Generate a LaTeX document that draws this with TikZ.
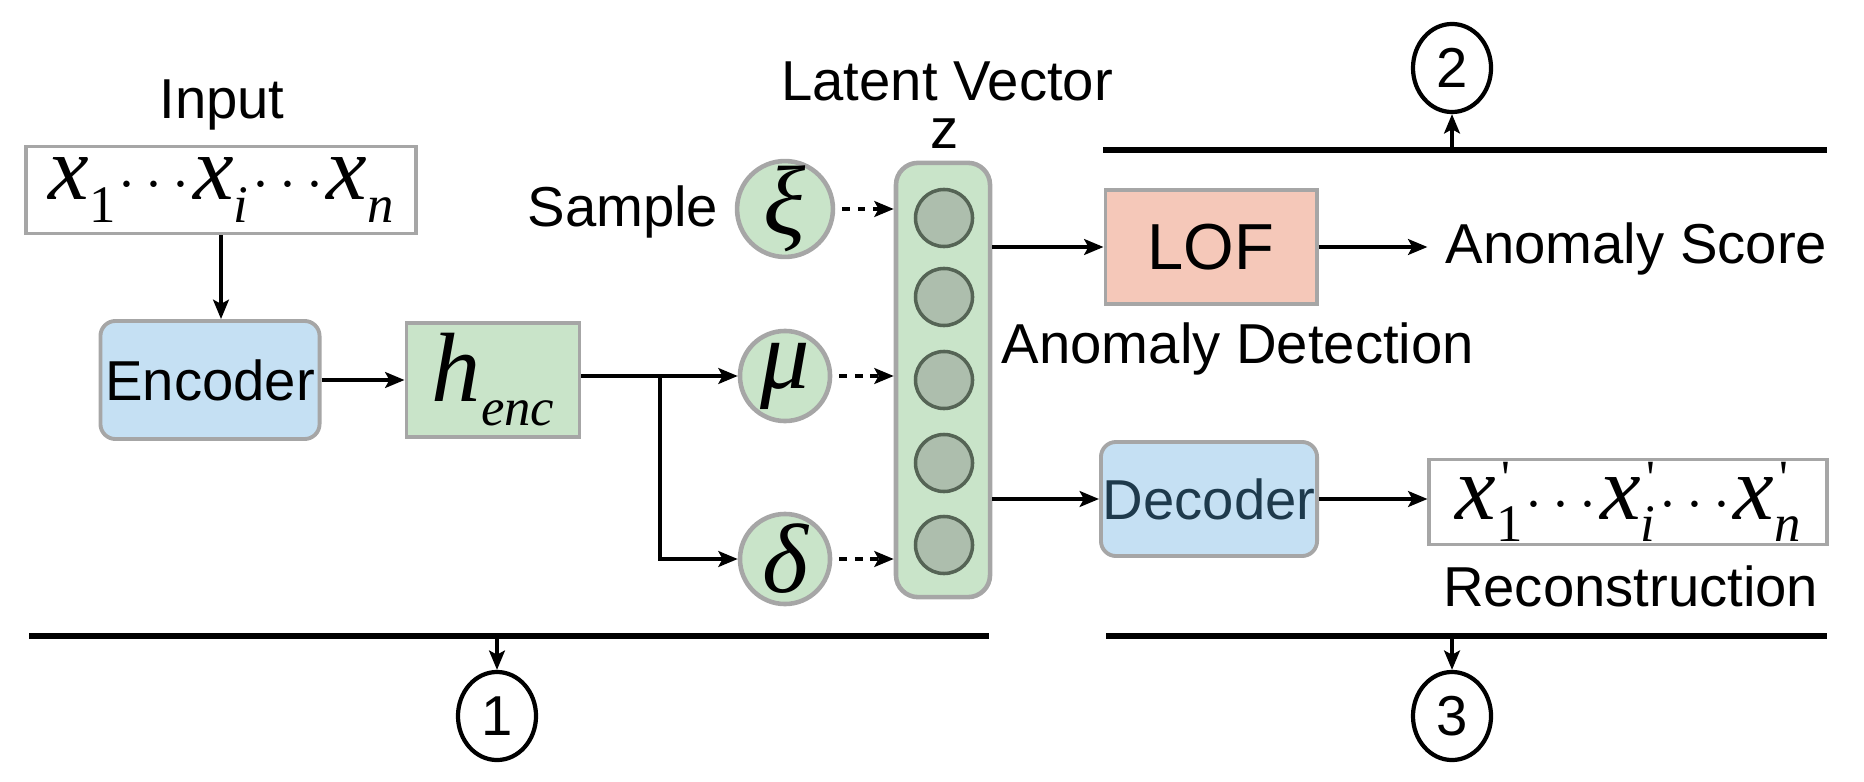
\documentclass[tikz,border=0pt]{standalone}
\usepackage{fontspec}
\setmainfont{Liberation Sans}
\newfontfamily\tms{Liberation Serif}
\usetikzlibrary{arrows.meta,shapes.geometric}
\definecolor{bord}{HTML}{A6A6A6}
\definecolor{encblue}{HTML}{C5E0F3}
\definecolor{lgreen}{HTML}{C9E4C9}
\definecolor{salmon}{HTML}{F5C8B9}
\definecolor{dotfill}{HTML}{ADBEAD}
\definecolor{dotdraw}{HTML}{556455}
\definecolor{navy}{HTML}{1E3A4C}
\newcommand\bigx{{\fontsize{26}{26}\selectfont\tms\itshape x}}
\newcommand\sbs[1]{\raisebox{-6.3pt}{\fontsize{15}{15}\selectfont\tms #1}}
\newcommand\sbp[1]{\rlap{\raisebox{7pt}{\kern1.5pt\fontsize{14}{14}\selectfont\tms\textquotesingle}}\sbs{#1}}
\newcommand\dts{{\fontsize{18}{18}\selectfont\kern1pt$\cdots$\kern1pt}}
\newcommand\grk[1]{{\fontsize{28}{28}\selectfont\tms\itshape #1}}
\begin{document}
\begin{tikzpicture}[x=0.01cm,y=-0.01cm,
  lbl/.style={inner sep=0pt,font=\fontsize{16}{16}\selectfont},
  vecbox/.style={draw=bord,line width=1.1pt,fill=white,inner sep=0pt},
  bluebox/.style={draw=bord,line width=1.1pt,fill=encblue,rounded corners=0.15cm,inner sep=0pt,font=\fontsize{16}{16}\selectfont},
  greenbox/.style={draw=bord,line width=1.1pt,fill=lgreen,inner sep=0pt},
  gcirc/.style={circle,draw=bord,line width=1.3pt,fill=lgreen,minimum size=0.90cm,inner sep=0pt},
  zcol/.style={draw=bord,line width=1.3pt,fill=lgreen,rounded corners=0.22cm,inner sep=0pt,minimum width=0.94cm,minimum height=4.34cm},
  zdot/.style={circle,draw=dotdraw,line width=1pt,fill=dotfill,minimum size=0.57cm,inner sep=0pt},
  arr/.style={line width=1pt,-{Stealth[length=5.5pt,width=4.5pt,inset=1.2pt]}},
  darr/.style={line width=1pt,dash pattern=on 2.2pt off 2.2pt,-{Stealth[length=5.5pt,width=4.5pt,inset=1.2pt]}},
  sepline/.style={line width=1.5pt},
  num/.style={ellipse,draw=black,line width=1.2pt,minimum width=0.78cm,minimum height=0.88cm,inner sep=0pt,font=\fontsize{16}{16}\selectfont}
]
\useasboundingbox (0,0) rectangle (1864,782);

% input
\node[lbl,anchor=base] (inlbl) at (222,119) {Input};
\node[vecbox,minimum width=3.90cm,minimum height=0.87cm] (in) at (221,190) {\bigx\sbs{1}\dts\bigx\sbs{\itshape i}\dts\bigx\sbs{\itshape n}};
\node[bluebox,minimum width=2.19cm,minimum height=1.18cm] (enc) at (210,380) {Encoder};
\node[greenbox,minimum width=1.73cm,minimum height=1.14cm] (h) at (493,380) {{\fontsize{28}{28}\selectfont\tms\itshape h}\raisebox{-6.8pt}{\fontsize{15}{15}\selectfont\tms\itshape enc}};

% greek circles
\node[lbl,anchor=base east] (smp) at (719,226) {Sample};
\node[gcirc] (xi) at (785,209) {\grk{ξ}};
\node[gcirc] (mu) at (785,376) {\grk{μ}};
\node[gcirc] (de) at (785,559) {\grk{δ}};

% latent column
\node[lbl,anchor=base] (lv) at (947,101) {Latent Vector};
\node[lbl,anchor=base] (zl) at (945,149) {z};
\node[zcol] (z) at (943,380) {};
\node[zdot] (z1) at (944,218) {};
\node[zdot] (z2) at (944,297) {};
\node[zdot] (z3) at (944,380) {};
\node[zdot] (z4) at (944,463) {};
\node[zdot] (z5) at (944,545) {};

% right part
\node[draw=bord,line width=1.1pt,fill=salmon,inner sep=0pt,minimum width=2.11cm,minimum height=1.14cm,font=\fontsize{18.5}{18.5}\selectfont] (lof) at (1211,247) {LOF};
\node[lbl,anchor=base west] (as) at (1445,263) {Anomaly Score};
\node[lbl,anchor=base] (ad) at (1238,363) {Anomaly Detection};
\node[bluebox,minimum width=2.16cm,minimum height=1.14cm,text=navy] (dec) at (1209,499) {Decoder};
\node[vecbox,minimum width=3.97cm,minimum height=0.85cm] (out) at (1628,502) {\bigx\sbp{1}\dts\bigx\sbp{\itshape i}\dts\bigx\sbp{\itshape n}};
\node[lbl,anchor=base east] (rec) at (1819,606) {Reconstruction};

% separators and numbers
\coordinate (l1a) at (29,636); \coordinate (l1b) at (989,636); \coordinate (l1m) at (497,636);
\coordinate (l2a) at (1103,150); \coordinate (l2b) at (1827,150); \coordinate (l2m) at (1452,150);
\coordinate (l3a) at (1106,636); \coordinate (l3b) at (1827,636); \coordinate (l3m) at (1452,636);
\draw[sepline] (l1a) -- (l1b);
\draw[sepline] (l2a) -- (l2b);
\draw[sepline] (l3a) -- (l3b);
\node[num] (n1) at (497,716) {1};
\node[num] (n2) at (1452,68) {2};
\node[num] (n3) at (1452,716) {3};
\draw[arr] (l1m) -- (n1.north);
\draw[arr] (l2m) -- (n2.south);
\draw[arr] (l3m) -- (n3.north);

% connectors
\draw[arr] (in.south) -- (in.south |- enc.north);
\draw[arr] (enc.east) -- (h.west);
\coordinate (br) at (660,376);
\draw[arr] (h.east |- mu) -- (mu.west);
\draw[arr] (br) |- (de.west);
\draw[darr,shorten <=2pt] (xi.east) -- (xi.east -| z.west);
\draw[darr,shorten <=2pt] (mu.east) -- (mu.east -| z.west);
\draw[darr,shorten <=2pt] (de.east) -- (de.east -| z.west);
\draw[arr] (z.east |- lof) -- (lof.west);
\draw[arr] (z.east |- dec) -- (dec.west);
\draw[arr,shorten >=5pt] (lof.east) -- (lof.east -| as.west);
\draw[arr] (dec.east) -- (dec.east -| out.west);
\end{tikzpicture}
\end{document}
